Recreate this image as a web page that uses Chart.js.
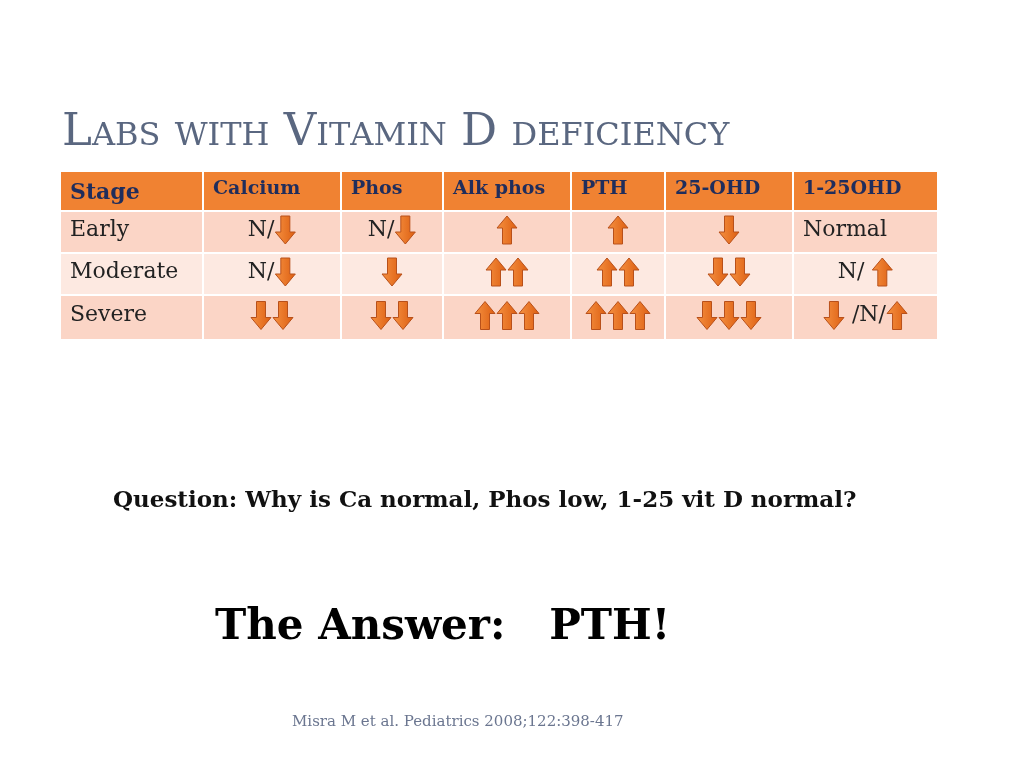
<!DOCTYPE html>
<html>
<head>
<meta charset="utf-8">
<script src="https://cdn.jsdelivr.net/npm/chart.js@4.4.0/dist/chart.umd.min.js"></script>
<style>
  html, body { margin: 0; padding: 0; background: #fff; }
  #wrap { width: 1024px; height: 768px; position: relative; }
</style>
</head>
<body>
<div id="wrap"><canvas id="slide"></canvas></div>
<script>
"use strict";
// table contents ("u" = up arrow, "d" = down arrow)
const headers = ["Stage", "Calcium", "Phos", "Alk phos", "PTH", "25-OHD", "1-25OHD"];
const stages = ["Early", "Moderate", "Severe"];
const early = ["N/d", "N/d", "u", "u", "d", "Normal"];
const moderate = ["N/d", "d", "uu", "uu", "dd", "N/ u"];
const severe = ["dd", "dd", "uuu", "uuu", "ddd", "d /N/u"];
const rows = [early, moderate, severe];

// layout (page units)
const colEdges = [60, 203, 341, 443, 571, 665, 793, 938];
const rowEdges = [171, 211, 253, 295, 340];

const serif = "'DejaVu Serif', 'Liberation Serif', serif";
const orange = "#f08232";
const navy = "#1f2d5c";

function arrow(ctx, cx, cy, up) {
  const w = 20, h = 28, sw = 9, hh = 12;
  ctx.save();
  ctx.translate(cx, cy);
  if (!up) ctx.scale(1, -1);
  ctx.beginPath();
  ctx.moveTo(0, -h / 2);
  ctx.lineTo(w / 2, -h / 2 + hh);
  ctx.lineTo(sw / 2, -h / 2 + hh);
  ctx.lineTo(sw / 2, h / 2);
  ctx.lineTo(-sw / 2, h / 2);
  ctx.lineTo(-sw / 2, -h / 2 + hh);
  ctx.lineTo(-w / 2, -h / 2 + hh);
  ctx.closePath();
  const g = ctx.createLinearGradient(-w / 2, 0, w / 2, 0);
  g.addColorStop(0, "#f59040");
  g.addColorStop(1, "#dd5f12");
  ctx.fillStyle = g;
  ctx.fill();
  ctx.strokeStyle = "#b8501a";
  ctx.lineWidth = 1;
  ctx.stroke();
  ctx.restore();
}

function drawCell(ctx, str, x0, x1, cy) {
  ctx.font = "22px " + serif;
  ctx.fillStyle = "#222";
  ctx.textBaseline = "middle";
  const hasArrow = /[ud]/.test(str.replace("Normal", ""));
  if (!hasArrow) {
    ctx.textAlign = "left";
    ctx.fillText(str, x0 + 10, cy);
    return;
  }
  const parts = [];
  let buf = "";
  for (const c of str) {
    if (c === "u" || c === "d") {
      if (buf) parts.push({ t: buf });
      buf = "";
      parts.push({ a: c });
    } else buf += c;
  }
  if (buf) parts.push({ t: buf });
  let total = 0;
  parts.forEach(p => { p.w = p.t ? ctx.measureText(p.t).width : 22; total += p.w; });
  let x = (x0 + x1) / 2 - total / 2;
  ctx.textAlign = "left";
  parts.forEach(p => {
    if (p.t) ctx.fillText(p.t, x, cy);
    else arrow(ctx, x + 11, cy, p.a === "u");
    x += p.w;
  });
}

const slidePlugin = {
  id: "slide",
  afterDraw(chart) {
    const ctx = chart.ctx;
    const sx = chart.scales.x, sy = chart.scales.y;
    const X = v => sx.getPixelForValue(v), Y = v => sy.getPixelForValue(v);
    ctx.save();
    // title in small caps
    ctx.fillStyle = "#5a6780";
    ctx.textBaseline = "alphabetic";
    ctx.textAlign = "left";
    let tx = X(62);
    const title = "Labs with Vitamin D deficiency";
    for (const ch of title) {
      const big = ch !== ch.toLowerCase() || ch === " ";
      ctx.font = (big ? 45 : 32) + "px " + serif;
      const c = big ? ch : ch.toUpperCase();
      ctx.fillText(c, tx, Y(145));
      tx += ctx.measureText(c).width;
    }
    // table
    for (let r = 0; r < rowEdges.length - 1; r++) {
      for (let c = 0; c < colEdges.length - 1; c++) {
        const x0 = X(colEdges[c]), x1 = X(colEdges[c + 1]);
        const y0 = Y(rowEdges[r]), y1 = Y(rowEdges[r + 1]);
        ctx.fillStyle = r === 0 ? orange : (r % 2 ? "#fbd5c6" : "#fde9e1");
        ctx.fillRect(x0, y0, x1 - x0, y1 - y0);
        ctx.strokeStyle = "#fff";
        ctx.lineWidth = 2;
        ctx.strokeRect(x0, y0, x1 - x0, y1 - y0);
        const cy = (y0 + y1) / 2;
        if (r === 0) {
          ctx.fillStyle = navy;
          ctx.font = "bold " + (c === 0 ? 22 : 19) + "px " + serif;
          ctx.textAlign = "left";
          ctx.textBaseline = "middle";
          ctx.fillText(headers[c], x0 + 10, c === 0 ? cy + 2 : cy - 2);
        } else if (c === 0) {
          ctx.fillStyle = "#222";
          ctx.font = "22px " + serif;
          ctx.textAlign = "left";
          ctx.textBaseline = "middle";
          ctx.fillText(stages[r - 1], x0 + 10, cy - 2);
        } else {
          drawCell(ctx, rows[r - 1][c - 1], x0, x1, cy - 2);
        }
      }
    }
    // texts
    ctx.textBaseline = "alphabetic";
    ctx.textAlign = "left";
    ctx.fillStyle = "#111";
    ctx.font = "bold 23px " + serif;
    ctx.fillText("Question: Why is Ca normal, Phos low, 1-25 vit D normal?", X(113), Y(507));
    ctx.fillStyle = "#000";
    ctx.font = "bold 42px " + serif;
    ctx.fillText("The Answer:   PTH!", X(215), Y(639));
    ctx.fillStyle = "#6b7690";
    ctx.font = "15px " + serif;
    ctx.fillText("Misra M et al. Pediatrics 2008;122:398-417", X(292), Y(726));
    ctx.restore();
  }
};

new Chart(document.getElementById("slide"), {
  type: "scatter",
  data: { datasets: [{ data: [] }] },
  options: {
    responsive: true,
    maintainAspectRatio: false,
    animation: false,
    layout: { padding: 0 },
    plugins: { legend: { display: false }, tooltip: { enabled: false } },
    scales: {
      x: { type: "linear", min: 0, max: 1024, display: false },
      y: { type: "linear", min: 0, max: 768, reverse: true, display: false }
    }
  },
  plugins: [slidePlugin]
});
</script>
</body>
</html>
